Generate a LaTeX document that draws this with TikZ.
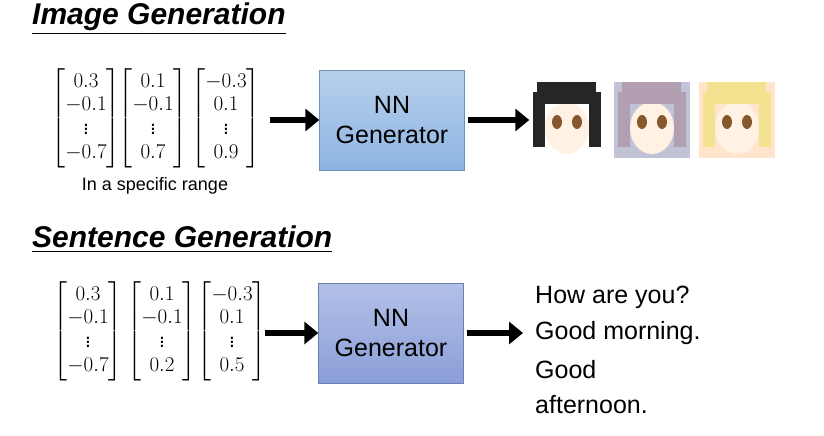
\documentclass[tikz,border=0pt]{standalone}
\usepackage{fix-cm}
\usepackage{amsmath}
\usepackage{fontspec}
\setmainfont{Liberation Sans}
\usetikzlibrary{arrows.meta}
\definecolor{topA}{HTML}{B8D0EC}
\definecolor{topB}{HTML}{8DB4E2}
\definecolor{botA}{HTML}{B3C0E8}
\definecolor{botB}{HTML}{8A9FD8}
\tikzset{
 gen/.style={draw=topB!80!black, minimum width=145pt, minimum height=100pt, align=center, font=\fontsize{25}{30}\selectfont, inner sep=0pt},
 bigarrow/.style={-{Triangle[length=14pt,width=22pt]}, line width=6pt},
 title/.style={font=\fontsize{30}{34}\selectfont\bfseries\itshape, anchor=west, inner sep=0pt},
 mat/.style={font=\fontsize{21}{25}\selectfont, inner sep=0pt},
 sent/.style={font=\fontsize{25}{28}\selectfont, anchor=west, inner sep=0pt},
}
\newcommand{\vecm}[4]{$\renewcommand{\arraystretch}{0.95}\setlength{\arraycolsep}{1pt}\begin{bmatrix}#1\\#2\\ \vdots\\#4\end{bmatrix}$}
\begin{document}
\begin{tikzpicture}[x=1pt,y=-1pt]
\useasboundingbox (0,0) rectangle (824,436);
% top
\node[title] (t1) at (32,19) {\underline{Image Generation}};
\node[mat] (m1) at (86,118) {\vecm{0.3}{-0.1}{}{-0.7}};
\node[mat] (m2) at (153,118) {\vecm{0.1}{-0.1}{}{0.7}};
\node[mat] (m3) at (226,118) {\vecm{-0.3}{0.1}{}{0.9}};
\node[font=\fontsize{18}{20}\selectfont] (r) at (155,186) {In a specific range};
\node[gen, top color=topA, bottom color=topB] (g1) at (392,120) {NN\\Generator};
\coordinate (a1s) at (270,120);
\draw[bigarrow] (a1s) -- (g1.west);
\node[minimum width=75pt,minimum height=75pt,inner sep=0pt] (i1) at (567,120) {};
\node[minimum width=75pt,minimum height=75pt,inner sep=0pt] (i2) at (652,120) {};
\node[minimum width=75pt,minimum height=75pt,inner sep=0pt] (i3) at (737,120) {};
\draw[bigarrow] (g1.east) ++(3,0) -- (i1.west);
% faces
\foreach \n/\hair/\bg in {i1/black!85/white, i2/violet!25!gray!60/blue!20!gray!40, i3/yellow!60!brown!50/orange!20!white}{
  \fill[\bg] (\n.north west) rectangle (\n.south east);
  \fill[orange!10!white] (\n.center) ++(0,8) ellipse (22 and 26);
  \fill[\hair] (\n.north west) ++(8,0) rectangle ++(59,22);
  \fill[\hair] (\n.north west) ++(4,10) rectangle ++(12,55);
  \fill[\hair] (\n.north east) ++(-16,10) rectangle ++(12,55);
  \fill[brown!70!black] (\n.center) ++(-10,2) ellipse (5 and 7);
  \fill[brown!70!black] (\n.center) ++(10,2) ellipse (5 and 7);
}
% bottom
\node[title] (t2) at (32,239) {\underline{Sentence Generation}};
\node[mat] (n1) at (88,331) {\vecm{0.3}{-0.1}{}{-0.7}};
\node[mat] (n2) at (162,331) {\vecm{0.1}{-0.1}{}{0.2}};
\node[mat] (n3) at (232,331) {\vecm{-0.3}{0.1}{}{0.5}};
\node[gen, top color=botA, bottom color=botB, draw=botB!80!black] (g2) at (391,333) {NN\\Generator};
\coordinate (a2s) at (265,333);
\draw[bigarrow] (a2s) -- (g2.west);
\node[sent] (s1) at (535,297) {How are you?};
\node[sent] (s2) at (535,333) {Good morning.};
\node[sent] (s3) at (535,370) {Good};
\node[sent] (s4) at (535,405) {afternoon.};
\draw[bigarrow] (g2.east) ++(3,0) -- ([xshift=-12pt]s2.west);
\end{tikzpicture}
\end{document}
